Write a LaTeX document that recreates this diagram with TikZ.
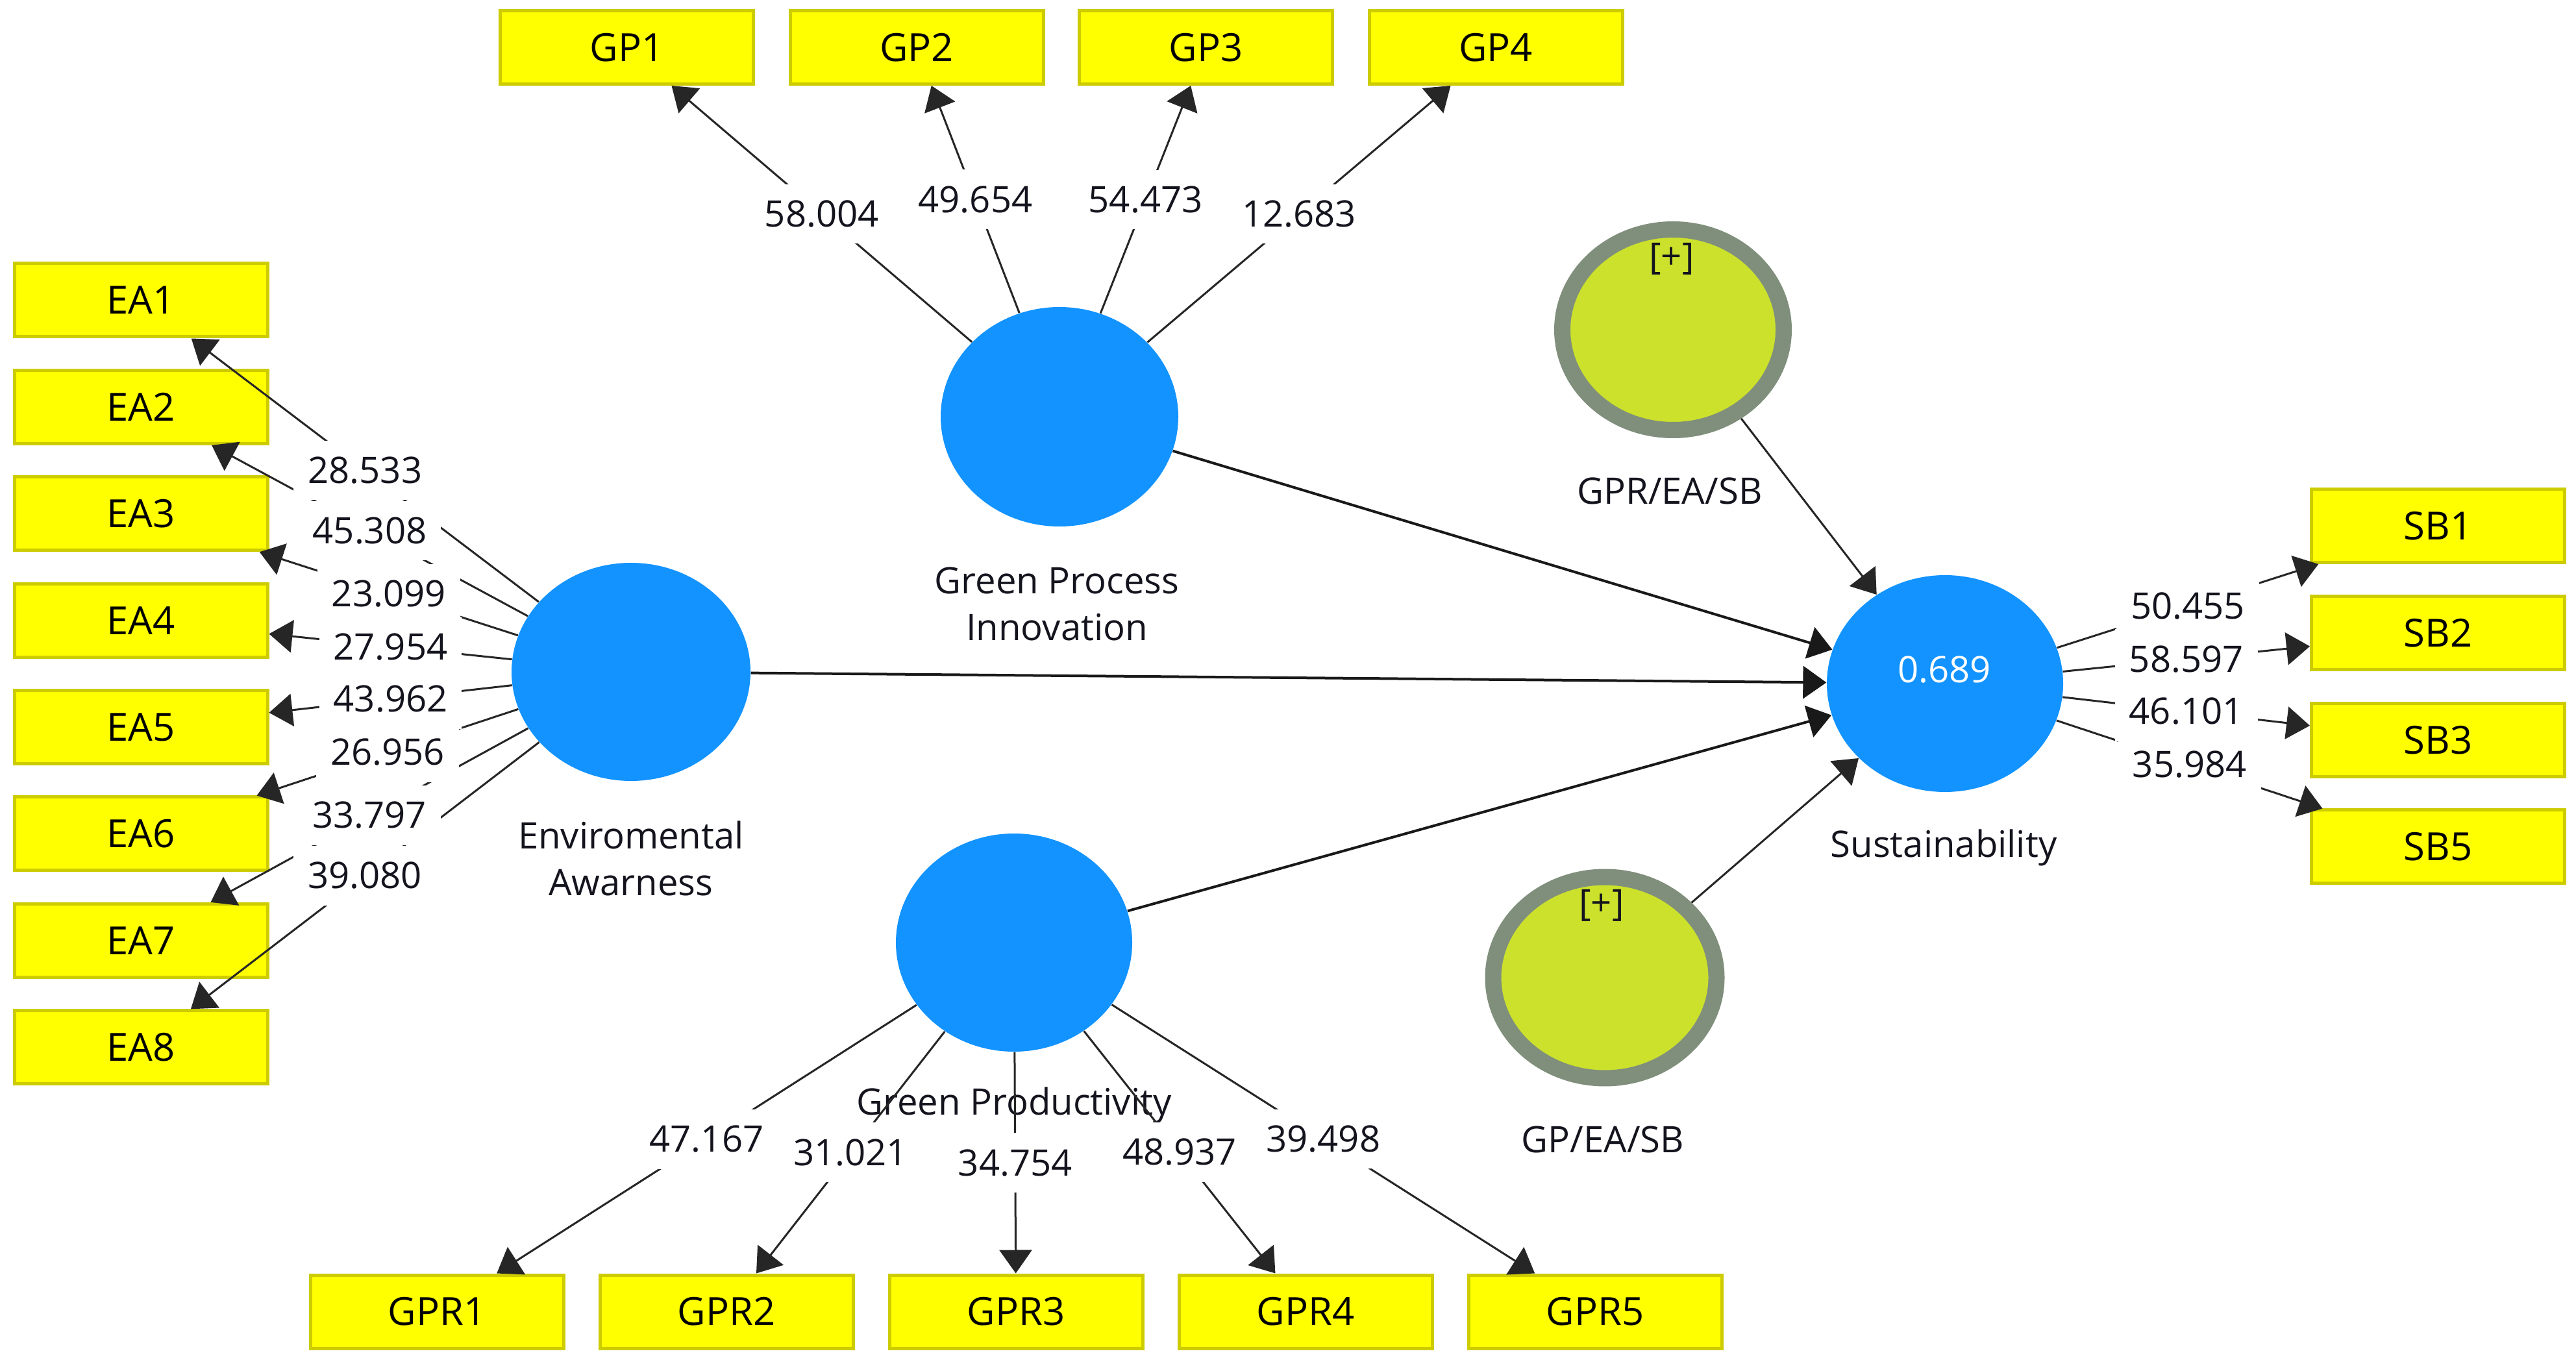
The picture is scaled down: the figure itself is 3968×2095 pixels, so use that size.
\documentclass[tikz,border=0pt]{standalone}
\usepackage{fontspec}
\setmainfont{Open Sans}
\usetikzlibrary{shapes.geometric,arrows.meta}
\definecolor{lvblue}{RGB}{18,147,255}
\definecolor{boxyellow}{RGB}{255,255,0}
\definecolor{boxborder}{RGB}{204,204,0}
\definecolor{modfill}{RGB}{204,225,44}
\definecolor{modring}{RGB}{128,143,124}
\definecolor{txt}{RGB}{20,20,30}
\begin{document}
\begin{tikzpicture}[x=0.1mm,y=-0.1mm,
 ind/.style={rectangle,fill=boxyellow,draw=boxborder,line width=0.5mm,minimum width=39mm,minimum height=11.3mm,inner sep=0pt,font=\fontsize{17}{20}\selectfont},
 lv/.style={ellipse,fill=lvblue,inner sep=0pt},
 mod/.style={ellipse,fill=modfill,draw=modring,line width=2.5mm,inner sep=0pt},
 lvname/.style={font=\fontsize{16}{20.5}\selectfont,align=center,text=txt},
 coef/.style={fill=white,inner xsep=2.2mm,inner ysep=2.5mm,text=txt,font=\fontsize{16}{19}\selectfont},
 meas/.style={line width=0.3mm,draw=black!85,-{Triangle[length=3.6mm,width=5mm]}},
 struct/.style={line width=0.4mm,draw=black!90,-{Triangle[length=3.6mm,width=5mm]}},
]
\useasboundingbox (0,0) rectangle (3968,2095);

% latent variables
\node[lv,minimum width=36.8mm,minimum height=33.6mm] (EA) at (972,1035) {};
\node[lv,minimum width=36.6mm,minimum height=33.8mm] (GPI) at (1632,642) {};
\node[lv,minimum width=36.4mm,minimum height=33.6mm] (GPD) at (1562,1452) {};
\node[lv,minimum width=36.4mm,minimum height=33.4mm] (SUS) at (2996,1053) {};
\node[mod,minimum width=34.1mm,minimum height=30.9mm] (M1) at (2577,508) {};
\node[mod,minimum width=34.4mm,minimum height=31.0mm] (M2) at (2472,1506) {};

\node[text=white,font=\fontsize{16}{19}\selectfont] (sval) at (2995,1032) {0.689};
\node[lvname] (m1plus) at (2575,399) {[+]};
\node[lvname] (m2plus) at (2467,1395) {[+]};

% construct names
\node[lvname] (EAname) at (972,1322) {Enviromental\\Awarness};
\node[lvname] (GPIname) at (1628,930) {Green Process\\Innovation};
\node[lvname] (GPDname) at (1562,1703) {Green Productivity};
\node[lvname] (SUSname) at (2994,1306) {Sustainability};
\node[lvname] (M1name) at (2572,756) {GPR/EA/SB};
\node[lvname] (M2name) at (2469,1755) {GP/EA/SB};

% indicators
\foreach \i/\y in {1/462.5,2/626.9,3/791.3,4/955.7,5/1120.1,6/1284.5,7/1448.9,8/1613.3}
  \node[ind] (EA\i) at (217,\y) {EA\i};
\foreach \i/\x in {1/965.5,2/1412,3/1857.5,4/2304}
  \node[ind] (GP\i) at (\x,73) {GP\i};
\foreach \i/\x in {1/673,2/1119,3/1565,4/2011,5/2457}
  \node[ind] (GPR\i) at (\x,2020.5) {GPR\i};
\foreach \i/\y in {1/810,2/975.5,3/1140.5,5/1304.5}
  \node[ind] (SB\i) at (3755.5,\y) {SB\i};

% outer model connectors
\foreach \i in {1,...,8} \draw[meas] (EA) -- (EA\i);
\foreach \i in {1,...,4} \draw[meas] (GPI) -- (GP\i);
\foreach \i in {1,...,5} \draw[meas] (GPD) -- (GPR\i);
\foreach \i in {1,2,3,5} \draw[meas] (SUS) -- (SB\i);

% inner model
\draw[struct] (GPI) -- (SUS);
\draw[struct] (EA) -- (SUS);
\draw[struct] (GPD) -- (SUS);
\draw[meas] (M1) -- (SUS);
\draw[meas] (M2) -- (SUS);

% coefficients
\foreach \i/\v in {1/28.533,2/45.308,3/23.099,4/27.954,5/43.962,6/26.956,7/33.797,8/39.080}
  \path (EA) -- node[coef]{\v} (EA\i);
\foreach \i/\v in {1/58.004,2/49.654,3/54.473,4/12.683}
  \path (GPI) -- node[coef]{\v} (GP\i);
\foreach \i/\v in {1/47.167,2/31.021,3/34.754,4/48.937,5/39.498}
  \path (GPD) -- node[coef]{\v} (GPR\i);
\foreach \i/\v in {1/50.455,2/58.597,3/46.101,5/35.984}
  \path (SUS) -- node[coef]{\v} (SB\i);
\end{tikzpicture}
\end{document}
